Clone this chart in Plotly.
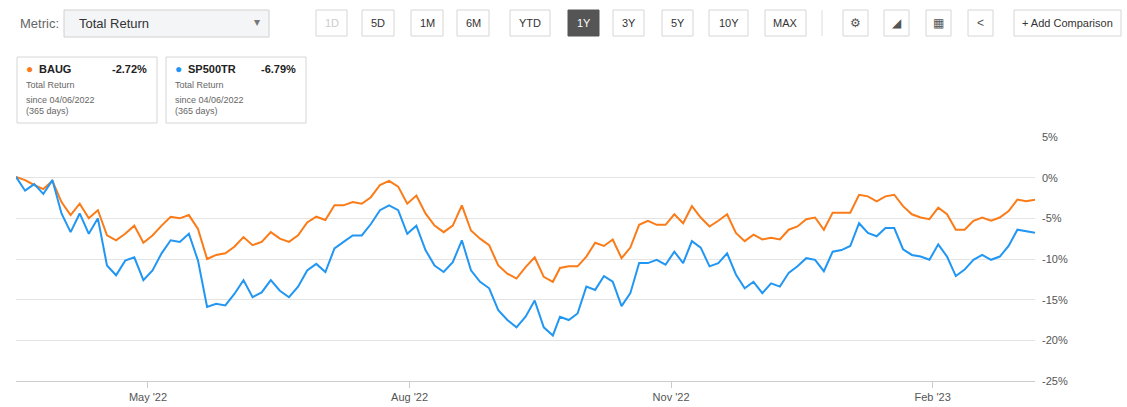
import plotly.graph_objects as go
import pandas as pd

baug = [0.1,-0.3,-0.9,-1.4,-0.4,-3.0,-4.6,-3.2,-5.0,-4.0,-7.1,-7.7,-6.9,-5.9,-8.0,-7.1,-5.9,-4.8,-5.0,-4.6,
        -6.3,-10.0,-9.5,-9.3,-8.5,-7.3,-8.3,-7.9,-6.7,-7.5,-7.9,-7.1,-5.5,-4.8,-5.2,-3.4,-3.4,-3.0,-3.2,-2.4,
        -0.9,-0.4,-1.1,-3.2,-2.2,-4.4,-5.9,-6.7,-5.9,-3.4,-6.5,-7.5,-8.3,-10.8,-11.8,-12.4,-11.0,-9.8,-12.2,-12.8,
        -11.1,-10.9,-10.9,-9.7,-8.0,-8.4,-7.6,-9.9,-8.6,-5.8,-5.3,-5.8,-5.8,-4.5,-5.6,-3.5,-4.9,-6.0,-5.3,-4.5,
        -6.8,-7.8,-7.0,-7.6,-7.4,-7.6,-6.4,-6.0,-5.1,-4.9,-6.4,-4.3,-4.3,-4.3,-2.1,-2.3,-2.9,-2.3,-2.1,-3.5,
        -4.5,-4.9,-5.1,-3.7,-4.5,-6.4,-6.4,-5.3,-4.9,-5.3,-4.9,-4.1,-2.7,-2.9,-2.72]
sp500 = [0.1,-1.6,-0.8,-2.0,-0.3,-4.4,-6.7,-4.4,-6.9,-5.0,-10.8,-12.0,-10.2,-9.8,-12.6,-11.4,-9.3,-7.7,-7.9,-6.9,
         -10.2,-15.9,-15.5,-15.7,-14.3,-12.6,-14.7,-14.1,-12.6,-13.9,-14.7,-13.4,-11.4,-10.6,-11.6,-8.7,-7.9,-7.1,-7.1,-5.7,
         -4.0,-3.4,-4.0,-6.9,-5.9,-8.9,-10.8,-11.6,-10.4,-7.7,-11.4,-12.8,-13.6,-16.3,-17.5,-18.4,-17.1,-15.1,-18.4,-19.4,
         -17.1,-17.5,-16.7,-13.4,-13.8,-12.1,-12.8,-15.8,-14.2,-10.5,-10.5,-10.1,-10.7,-9.1,-10.5,-7.8,-8.6,-10.9,-10.5,-9.3,
         -11.9,-13.6,-12.8,-14.2,-13.0,-13.4,-11.7,-10.9,-9.9,-10.1,-11.5,-9.1,-8.9,-8.4,-5.6,-6.8,-7.2,-6.2,-6.2,-8.8,
         -9.5,-9.7,-10.1,-8.2,-9.7,-12.1,-11.3,-10.1,-9.5,-10.1,-9.7,-8.4,-6.4,-6.6,-6.79]
# date span of the two read-off stretches (Mar 2022 - Sep 2022, Sep 2022 - Mar 2023)
seg1 = pd.date_range("2022-03-15 14:00", "2022-09-20 10:00", periods=60)
seg2 = pd.date_range("2022-09-22 22:00", "2023-03-09", periods=len(baug) - 60)
dates = seg1.append(seg2)
x_start, x_end = pd.Timestamp("2022-03-15 14:00"), pd.Timestamp("2023-03-09")
tick_vals = ["2022-05-01", "2022-08-01", "2022-11-01", "2023-02-01"]
tick_text = ["May '22", "Aug '22", "Nov '22", "Feb '23"]
y_ticks = [5, 0, -5, -10, -15, -20, -25]
buttons = ["1D", "5D", "1M", "6M", "YTD", "1Y", "3Y", "5Y", "10Y", "MAX"]
btn_x = [(316, 347), (362, 394), (411, 443), (457, 489), (510, 550), (568, 599), (613, 644), (662, 693), (709, 748), (765, 806)]

ORANGE, BLUE = "#fa7b17", "#2196f3"
W, H = 1127, 407
L, R, T, B = 16, 1035, 137, 381

def px(x): return (x - L) / (R - L)
def py(y): return (B - y) / (B - T)

fig = go.Figure()
fig.add_trace(go.Scatter(x=dates, y=baug, mode="lines", line=dict(color=ORANGE, width=2), name="BAUG"))
fig.add_trace(go.Scatter(x=dates, y=sp500, mode="lines", line=dict(color=BLUE, width=2), name="SP500TR"))

shapes, ann = [], []
def box(x0, y0, x1, y1, fill="white", line="#d6d6d6"):
    shapes.append(dict(type="rect", xref="paper", yref="paper", x0=px(x0), x1=px(x1), y0=py(y1), y1=py(y0),
                       fillcolor=fill, line=dict(color=line, width=1), layer="above"))
def text(x, y, s, size=12, color="#333", anchor="left", bold=False):
    ann.append(dict(xref="paper", yref="paper", x=px(x), y=py(y), text=f"<b>{s}</b>" if bold else s,
                    showarrow=False, xanchor=anchor, yanchor="middle", font=dict(size=size, color=color)))

text(18, 23, "Metric:", 13, "#666")
box(64, 10, 269, 37, fill="#f4f5f7", line="#d0d0d0")
text(77, 23, "Total Return", 13, "#333")
text(262, 22, "▾", 12, "#777", "right")
for (x0, x1), b in zip(btn_x, buttons):
    sel = b == "1Y"
    box(x0, 10, x1, 36, fill="#555" if sel else "white", line="#555" if sel else "#d6d6d6")
    c = "white" if sel else ("#ccc" if b == "1D" else "#333")
    text((x0 + x1) / 2, 23, b, 11, c, "center")
shapes.append(dict(type="line", xref="paper", yref="paper", x0=px(822), x1=px(822), y0=py(36), y1=py(10),
                   line=dict(color="#ddd", width=1)))
for x0, sym in [(843, "⚙"), (884, "◢"), (926, "▦"), (968, "<")]:
    box(x0, 10, x0 + 25, 36)
    text(x0 + 12.5, 23, sym, 12, "#555", "center")
box(1014, 10, 1121, 36)
text(1067.5, 23, "+ Add Comparison", 11, "#333", "center")

for x0, name, val, col in [(17, "BAUG", "-2.72%", ORANGE), (166, "SP500TR", "-6.79%", BLUE)]:
    box(x0, 57, x0 + 140, 123, line="#d6d6d6")
    text(x0 + 7, 69, "●", 12, col)
    text(x0 + 20, 69, name, 11, "#222", bold=True)
    text(x0 + 132, 69, val, 11, "#222", "right", bold=True)
    text(x0 + 7, 85, "Total Return", 9, "#666")
    text(x0 + 7, 100, "since 04/06/2022", 9, "#666")
    text(x0 + 7, 111, "(365 days)", 9, "#666")

fig.update_layout(
    width=W, height=H, margin=dict(l=L, r=W - R, t=T, b=H - B, autoexpand=False),
    paper_bgcolor="white", plot_bgcolor="white", showlegend=False,
    font=dict(family="Liberation Sans, Arial, sans-serif"),
    shapes=shapes, annotations=ann,
    xaxis=dict(range=[x_start, x_end], tickvals=tick_vals, ticktext=tick_text, showgrid=False,
               ticks="outside", ticklen=6, tickcolor="#ccc", linecolor="#ccc", showline=True,
               tickfont=dict(size=11, color="#555")),
    yaxis=dict(range=[-25, 5], tickvals=y_ticks, ticktext=[f"{v}%" for v in y_ticks], side="right",
               gridcolor="#e4e4e4", zeroline=False, tickfont=dict(size=11, color="#555"), ticklabelstandoff=6),
)
fig.write_html("out.html", config={"displayModeBar": False},
               post_script="document.body.style.margin='0';document.body.style.overflow='hidden';")
